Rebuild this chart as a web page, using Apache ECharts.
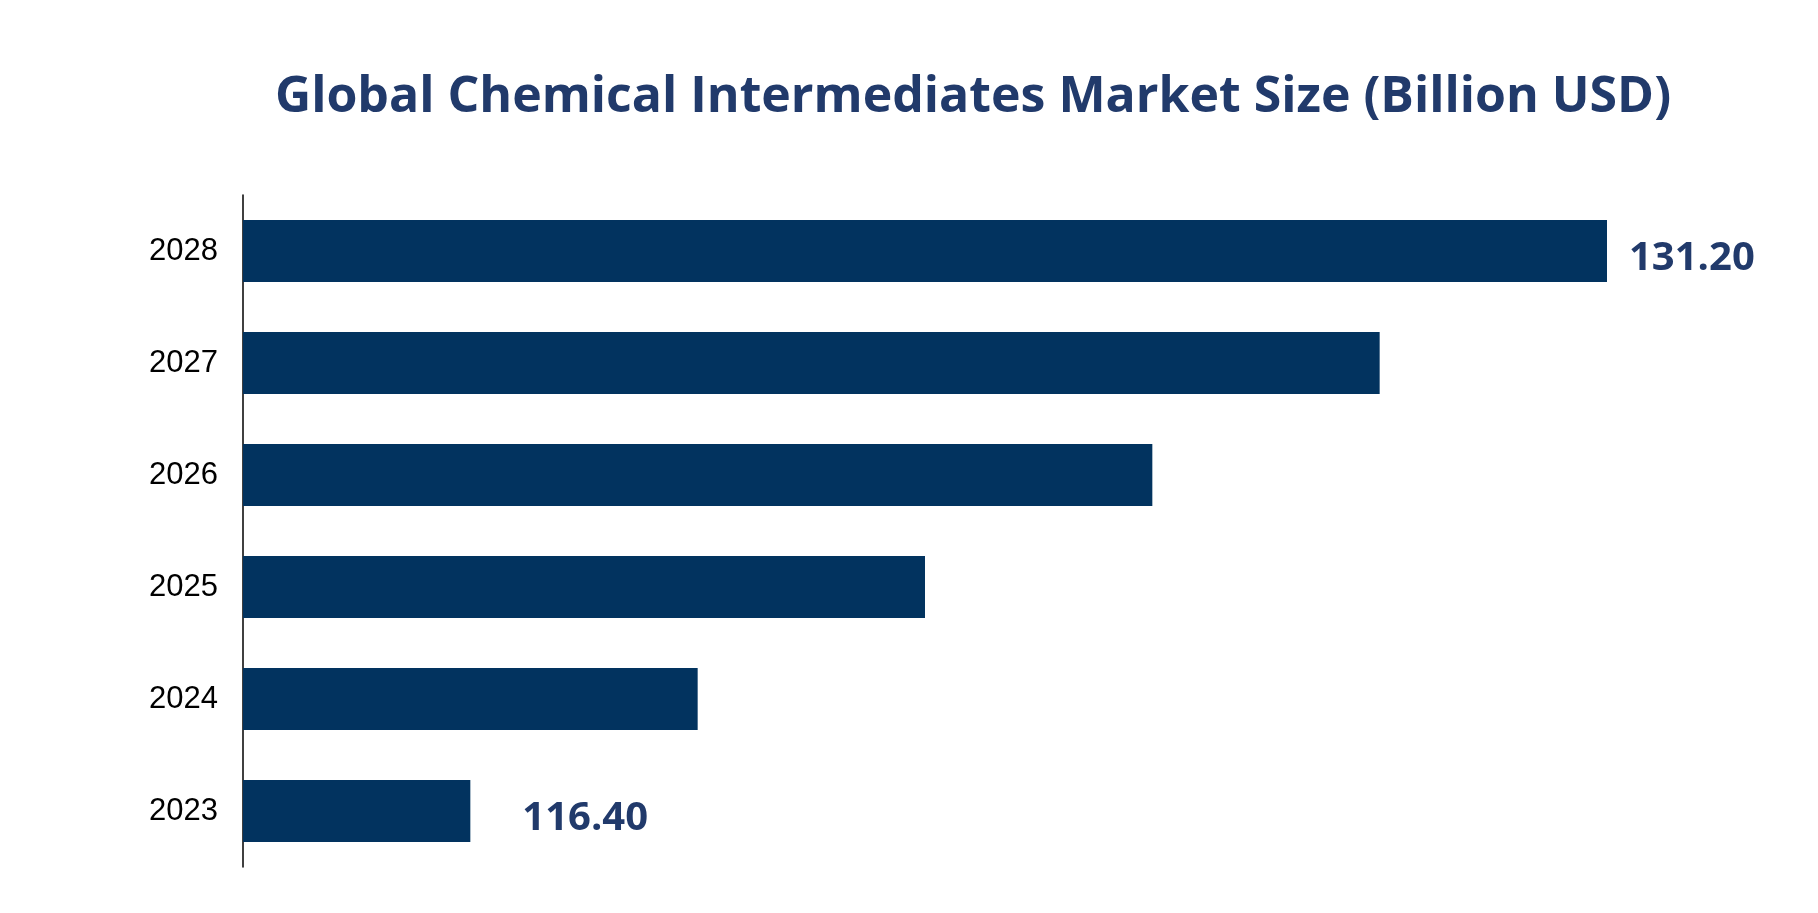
<!DOCTYPE html>
<html>
<head>
<meta charset="utf-8">
<script src="https://cdn.jsdelivr.net/npm/echarts@6/dist/echarts.min.js"></script>
<style>html,body{margin:0;padding:0;background:#fff}#Chart{width:1818px;height:913px}</style>
</head>
<body>
<div id="Chart"></div>
<script>
var years = ["2023", "2024", "2025", "2026", "2027", "2028"];
var values = [116.40, 119.36, 122.32, 125.28, 128.24, 131.20];
var labelDistance = [52, 0, 0, 0, 0, 22];
var barColor = "#02335f";
var labelColor = "#213a6b";

var myChart = echarts.init(document.getElementById("Chart"));
var seriesData = values.map(function (v, i) {
    var show = i == 0 || i == values.length - 1;
    return {
        value: v,
        label: {
            show: show,
            position: 'right',
            distance: labelDistance[i],
            offset: [0, 8],
            formatter: function (p) { return p.value.toFixed(2); },
            color: labelColor,
            fontSize: 40,
            fontWeight: 'bold',
            fontFamily: 'Open Sans'
        }
    };
});
var option = {
    title: {
        text: "Global Chemical Intermediates Market Size (Billion USD)",
        left: 968,
        textAlign: 'center',
        top: 68,
        textStyle: {
            color: labelColor,
            fontSize: 50,
            fontWeight: 'bold',
            fontFamily: 'Open Sans'
        }
    },
    grid: {
        left: 243,
        right: 211,
        top: 195,
        bottom: 46
    },
    xAxis: {
        type: 'value',
        min: 113.44,
        max: 131.2,
        show: false
    },
    yAxis: {
        type: 'category',
        data: years,
        axisLine: { show: true, lineStyle: { color: '#000', width: 1.5 } },
        axisTick: { show: false },
        axisLabel: {
            color: '#000',
            fontSize: 31,
            fontFamily: 'Liberation Sans',
            margin: 25
        }
    },
    series: [
        {
            type: 'bar',
            data: seriesData,
            barWidth: 62,
            itemStyle: { color: barColor }
        }
    ]
};
myChart.setOption(option);
</script>
</body>
</html>
